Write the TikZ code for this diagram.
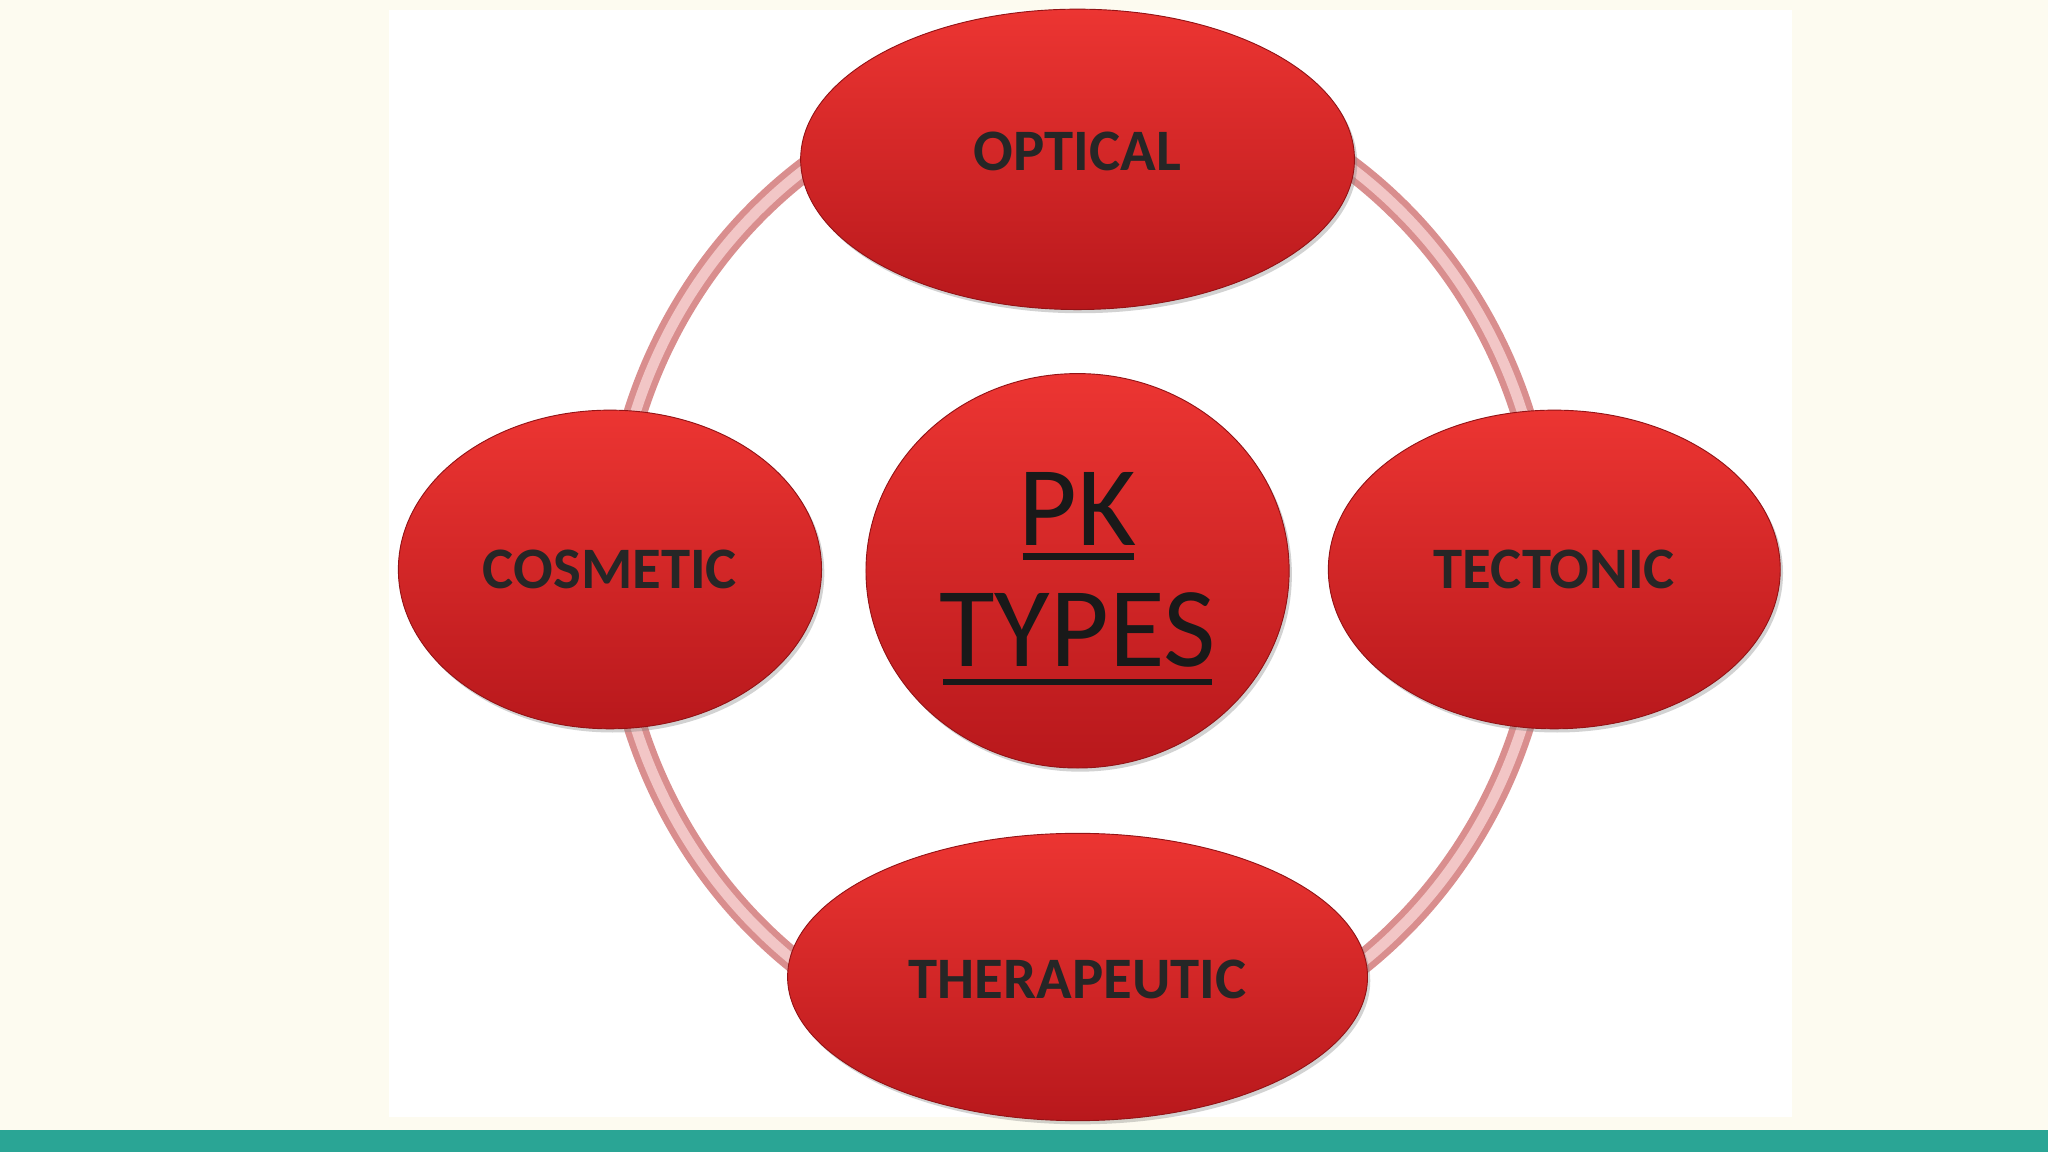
\documentclass[tikz,border=0pt]{standalone}
\usepackage{fontspec}
\setmainfont{Carlito}
\usetikzlibrary{shadows,shapes.geometric}
\definecolor{cream}{HTML}{FDFBF0}
\definecolor{tealbar}{HTML}{2AA595}
\definecolor{ring}{HTML}{D98E8E}
\definecolor{ringin}{HTML}{F2C6C6}
\definecolor{rtop}{HTML}{EC3532}
\definecolor{rbot}{HTML}{B8181C}
\tikzset{
  blob/.style={top color=rtop, bottom color=rbot, draw=rbot!80!black, line width=1pt,
     drop shadow={shadow xshift=3pt, shadow yshift=-4pt, opacity=0.35}},
  lab/.style={font=\bfseries\fontsize{64}{70}\selectfont, text=black!85}
}
\begin{document}
\begin{tikzpicture}[x=0.5mm,y=-0.5mm]
\useasboundingbox (0,0) rectangle (1568,882);
\fill[cream] (0,0) rectangle (1568,882);
\fill[tealbar] (0,865) rectangle (1568,882);
\fill[white] (298,8) rectangle (1372,855);
\draw[ring, line width=9mm] (826,436) ellipse (358 and 378);
\draw[ringin, line width=4mm] (826,436) ellipse (358 and 378);
\path[blob] (825,122) ellipse (212 and 115);
\node[lab] (optical) at (825,116) {OPTICAL};
\path[blob] (467,436) ellipse (162 and 122);
\node[lab] (cosmetic) at (467,436) {COSMETIC};
\path[blob] (1190,436) ellipse (173 and 122);
\node[lab] (tectonic) at (1190,436) {TECTONIC};
\path[blob] (825,748) ellipse (222 and 110);
\node[lab] (thera) at (825,750) {THERAPEUTIC};
\path[blob] (825,437) ellipse (162 and 151);
\node[font=\fontsize{124}{130}\selectfont, text=black!90] (pk) at (825,390) {PK};
\node[font=\fontsize{124}{130}\selectfont, text=black!90] (types) at (825,482) {TYPES};
\draw[black!90, line width=2.5mm] (783,426) -- (868,426);
\draw[black!90, line width=2.5mm] (722,522) -- (928,522);
\end{tikzpicture}
\end{document}
